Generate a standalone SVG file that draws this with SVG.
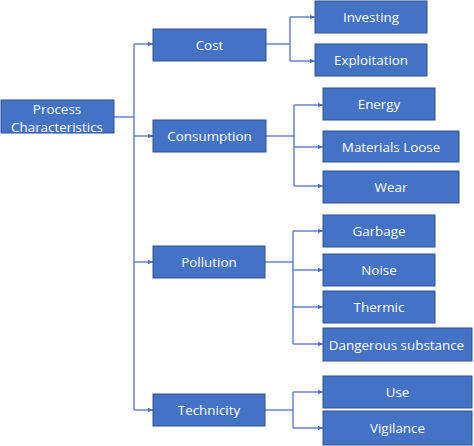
<svg xmlns="http://www.w3.org/2000/svg" width="474" height="446" viewBox="0 0 474 446">
<defs>
<marker id="arr" markerWidth="6" markerHeight="6" refX="5" refY="3" orient="auto" markerUnits="userSpaceOnUse">
<path d="M0,0.8 L5,3 L0,5.2 Z" fill="#4a6fbf"/>
</marker>
<style>
.n rect{fill:#4472c4;stroke:#2f528f;stroke-width:1}
.n text{fill:#fff;font-family:"Open Sans","Noto Sans",sans-serif;font-size:13.4px;text-anchor:middle;dominant-baseline:central}
.c path{fill:none;stroke:#5a7cc8;stroke-width:1.4}
.c path.a{marker-end:url(#arr)}
</style>
</defs>
<rect width="474" height="446" fill="#fff"/>
<g class="c">
<path d="M114,117 H134"/>
<path d="M134,44 V410"/>
<path class="a" d="M134,44 H153"/>
<path class="a" d="M134,136 H153"/>
<path class="a" d="M134,262 H153"/>
<path class="a" d="M134,410 H153"/>
<path d="M266,44 H290"/>
<path d="M290,17 V61"/>
<path class="a" d="M290,17 H315"/>
<path class="a" d="M290,61 H315"/>
<path d="M266,136 H294"/>
<path d="M294,105 V186"/>
<path class="a" d="M294,105 H323"/>
<path class="a" d="M294,147 H323"/>
<path class="a" d="M294,186 H323"/>
<path d="M265,262 H293"/>
<path d="M293,231 V344"/>
<path class="a" d="M293,231 H323"/>
<path class="a" d="M293,270 H323"/>
<path class="a" d="M293,307 H323"/>
<path class="a" d="M293,344 H323"/>
<path d="M265,410 H293"/>
<path d="M293,392 V428"/>
<path class="a" d="M293,392 H323"/>
<path class="a" d="M293,428 H323"/>
</g>
<g class="n" id="n-process"><rect x="1" y="100" width="113" height="33"/><text x="57" y="108.5">Process</text><text x="57" y="126.5">Characteristics</text></g>
<g class="n" id="n-cost"><rect x="153" y="29" width="113" height="32"/><text x="209.5" y="45">Cost</text></g>
<g class="n" id="n-consumption"><rect x="153" y="120" width="113" height="32"/><text x="209.5" y="136">Consumption</text></g>
<g class="n" id="n-pollution"><rect x="153" y="246" width="112" height="32"/><text x="209" y="262">Pollution</text></g>
<g class="n" id="n-technicity"><rect x="153" y="394" width="112" height="32"/><text x="209" y="410">Technicity</text></g>
<g class="n" id="n-investing"><rect x="315" y="1" width="112" height="32"/><text x="371" y="17">Investing</text></g>
<g class="n" id="n-exploitation"><rect x="315" y="44" width="112" height="32"/><text x="371" y="60">Exploitation</text></g>
<g class="n" id="n-energy"><rect x="323" y="88" width="112" height="32"/><text x="379" y="104">Energy</text></g>
<g class="n" id="n-materials"><rect x="323" y="131" width="136" height="31"/><text x="391" y="146.5">Materials Loose</text></g>
<g class="n" id="n-wear"><rect x="323" y="171" width="136" height="32"/><text x="391" y="187">Wear</text></g>
<g class="n" id="n-garbage"><rect x="323" y="215" width="112" height="32"/><text x="379" y="231">Garbage</text></g>
<g class="n" id="n-noise"><rect x="323" y="254" width="112" height="32"/><text x="379" y="270">Noise</text></g>
<g class="n" id="n-thermic"><rect x="323" y="291" width="112" height="32"/><text x="379" y="307">Thermic</text></g>
<g class="n" id="n-dangerous"><rect x="323" y="328" width="149" height="33"/><text x="396.5" y="344.5">Dangerous substance</text></g>
<g class="n" id="n-use"><rect x="323" y="376" width="149" height="32"/><text x="397.5" y="392">Use</text></g>
<g class="n" id="n-vigilance"><rect x="323" y="411" width="149" height="34"/><text x="397.5" y="428">Vigilance</text></g>
</svg>
